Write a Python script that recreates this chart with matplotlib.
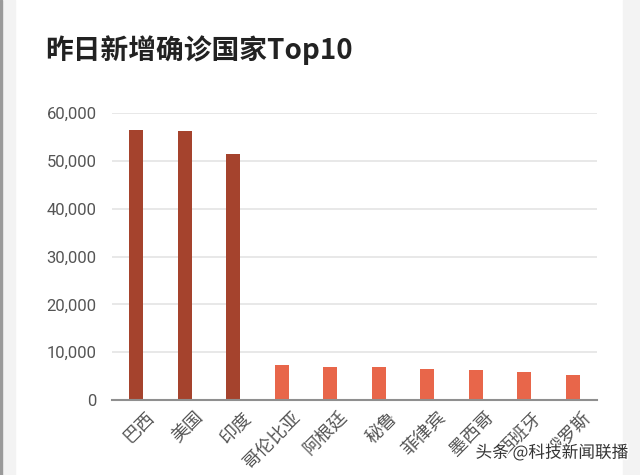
import matplotlib
matplotlib.use("Agg")
import matplotlib.pyplot as plt
import matplotlib.patheffects as pe
import matplotlib.transforms as mtrans
from matplotlib.patches import Rectangle
from matplotlib.ticker import FuncFormatter

plt.rcParams['font.family'] = ['Roboto', 'Noto Sans CJK SC', 'DejaVu Sans']

countries = ['巴西', '美国', '印度', '哥伦比亚', '阿根廷', '秘鲁', '菲律宾', '墨西哥', '西班牙', '俄罗斯']
new_cases = [56500, 56300, 51400, 7300, 6950, 6950, 6380, 6300, 5940, 5290]
bar_colors = ['#a5432d'] * 3 + ['#e8664a'] * 7
yticks = [0, 10000, 20000, 30000, 40000, 50000, 60000]

fig = plt.figure(figsize=(6.4, 4.75), dpi=100)
fig.patch.set_facecolor('white')

# grey page edges
fig.add_artist(Rectangle((0, 0), 15 / 640, 1, transform=fig.transFigure, color='#f3f3f3', zorder=0))
fig.add_artist(Rectangle((0, 0), 2 / 640, 1, transform=fig.transFigure, color='#9a9a9a', zorder=0))
fig.add_artist(Rectangle((623 / 640, 0), 17 / 640, 1, transform=fig.transFigure, color='#f3f3f3', zorder=0))

ax = fig.add_axes([112 / 640, 75 / 475, 485 / 640, 287 / 475])
x = range(len(countries))
ax.bar(x, new_cases, width=0.29, color=bar_colors, zorder=3)

ax.set_xlim(-0.5, len(countries) - 0.5)
ax.set_ylim(0, 60000)
ax.set_yticks(yticks)
ax.yaxis.set_major_formatter(FuncFormatter(lambda v, p: f'{int(v):,}'))
ax.grid(axis='y', color='#e6e6e6', linewidth=1.3, zorder=0)
for s in ['top', 'right', 'left']:
    ax.spines[s].set_visible(False)
ax.spines['bottom'].set_color('#8f8f8f')
ax.spines['bottom'].set_linewidth(1.5)
ax.spines['bottom'].set_zorder(4)
ax.tick_params(axis='y', length=0, pad=11, labelsize=12, labelcolor='#555555')
ax.tick_params(axis='x', length=0, pad=6, labelcolor='#555555')
ax.set_xticks(list(x))
ax.set_xticklabels(countries, rotation=45, ha='right', rotation_mode='anchor',
                   fontsize=13, family=['Noto Sans CJK SC', 'DejaVu Sans'])
shift = mtrans.ScaledTranslation(9 / 100, 0, fig.dpi_scale_trans)
for lab in ax.get_xticklabels():
    lab.set_transform(lab.get_transform() + shift)

fig.text(45 / 640, 1 - 50 / 475, '昨日新增确诊国家Top10', fontsize=20, fontweight='bold',
         color='#222222', va='center', ha='left', family=['Noto Sans CJK SC', 'DejaVu Sans'])

fig.text(628 / 640, 1 - 453 / 475, '头条 @科技新闻联播', fontsize=12, color='#333333',
         va='center', ha='right', family=['Noto Sans CJK SC', 'DejaVu Sans'],
         path_effects=[pe.withStroke(linewidth=2, foreground='white')])

fig.savefig('out.png', dpi=100)
